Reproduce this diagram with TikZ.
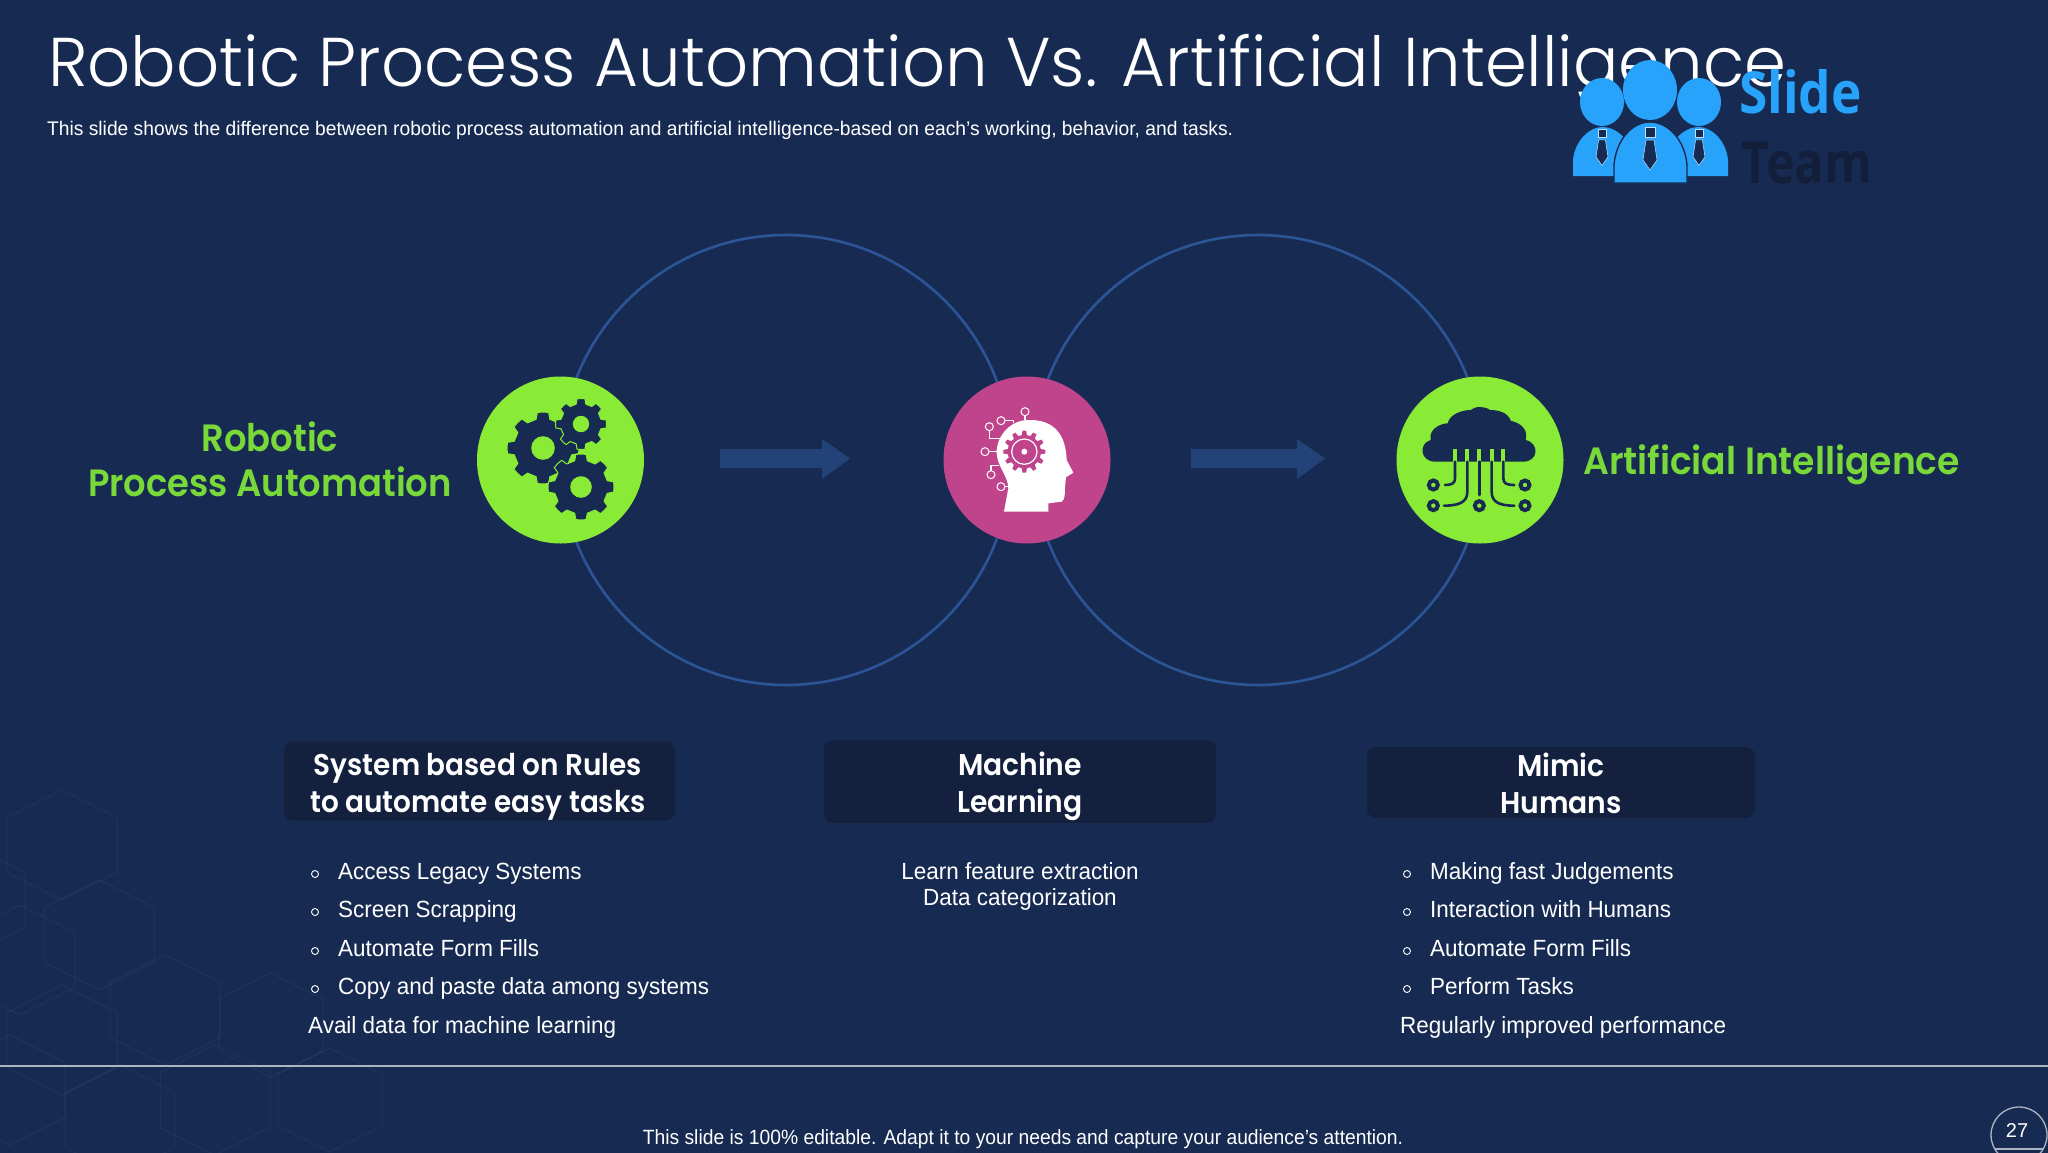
\documentclass[tikz,border=0pt]{standalone}
\usepackage{fontspec}
\setmainfont{Liberation Sans}
\newfontfamily\titlefont{Poppins Light}
\newfontfamily\headfont{Poppins SemiBold}
\newfontfamily\logofont{Open Sans}
\definecolor{bg}{HTML}{172B52}
\definecolor{boxdark}{HTML}{13213F}
\definecolor{lime}{HTML}{8AEB36}
\definecolor{limetext}{HTML}{7AD93A}
\definecolor{pinkc}{HTML}{C0448C}
\definecolor{ringblue}{HTML}{2B5597}
\definecolor{arrowblue}{HTML}{234378}
\definecolor{logoblue}{HTML}{27A3FB}
\definecolor{icondark}{HTML}{172B52}
\definecolor{teamdark}{HTML}{131F3A}
\newcommand{\gearshape}[7]{% x y R r n fill holecolor
  \begin{scope}[shift={(#1,#2)}]
    \filldraw[draw=lime,line width=1pt,fill=#6,line join=round]
      (0:#3) \foreach \i in {1,...,#5}{
        -- ({(\i-1)*360/#5+0.2*360/#5}:#3)
        -- ({(\i-1)*360/#5+0.3*360/#5}:#4)
        -- ({(\i-1)*360/#5+0.7*360/#5}:#4)
        -- ({(\i-1)*360/#5+0.8*360/#5}:#3)
        -- ({\i*360/#5}:#3)
      } -- cycle;
    \fill[#7] (0,0) circle ({#4*0.4});
  \end{scope}}
\tikzset{
  x=1pt,y=-1pt,
  bigring/.style={draw=ringblue,line width=2.6pt},
  disc/.style={circle,minimum size=167pt,inner sep=0pt,draw=none},
  flow/.style={fill=arrowblue},
  headbox/.style={rounded corners=9pt,fill=boxdark,draw=none,inner sep=0pt},
  headtext/.style={text=white,align=center,font=\headfont\fontsize{30}{37}\selectfont},
  label/.style={text=limetext,align=center,font=\headfont\fontsize{38}{45}\selectfont},
  body/.style={text=white,anchor=base west,inner sep=0pt,xscale=.96,font=\fontsize{23.4}{28}\selectfont},
  bodyc/.style={text=white,anchor=base,inner sep=0pt,xscale=.96,font=\fontsize{23.4}{28}\selectfont},
  dot/.style={circle,draw=white,line width=1pt,minimum size=8pt,inner sep=0pt},
  bulletmark/.style={circle,draw=white,line width=.9pt,minimum size=7pt,inner sep=0pt},
  hexline/.style={draw=white,opacity=0.04,line width=1pt},
  fig/.style={fill=logoblue},
  tie/.style={fill=icondark,draw=white!70!logoblue,line width=0.5pt},
  wire/.style={draw=white,line width=1.2pt},
  cwire/.style={draw=icondark,line width=2.6pt,line cap=round},
  pad/.style={draw=icondark,fill=lime,line width=4pt}
}
\begin{document}
\begin{tikzpicture}
\useasboundingbox (0,0) rectangle (2048,1152);
\fill[bg] (-5,-5) rectangle (2053,1157);
% background hexagons
\begin{scope}
\clip (0,0) rectangle (2048,1152);
\foreach \cx/\cy/\r in {62/845/55,-30/900/55,99/935/55,20/960/55,165/1010/55,62/1040/55,271/1025/52,215/1100/55,120/1120/55,330/1100/52,10/1090/55}{
  \draw[hexline] (\cx,\cy-\r) -- (\cx+\r,\cy-\r/2) -- (\cx+\r,\cy+\r/2) -- (\cx,\cy+\r) -- (\cx-\r,\cy+\r/2) -- (\cx-\r,\cy-\r/2) -- cycle;
}
\end{scope}
% rings
\draw[bigring] (786,460) circle (225);
\draw[bigring] (1258,460) circle (225);
% title
\node[anchor=base west,inner sep=0pt,text=white,xscale=.976,font=\titlefont\fontsize{69}{80}\selectfont] (title) at (48,86) {Robotic Process Automation Vs. Artificial Intelligence};
\node[body,xscale=1.017,font=\fontsize{19.7}{24}\selectfont] (subtitle) at (47,135) {This slide shows the difference between robotic process automation and artificial intelligence-based on each's working, behavior, and tasks.};
% logo
\fill[fig] (1602,102) ellipse (22 and 24);
\fill[fig] (1699,102) ellipse (22 and 24);
\fill[fig] (1573,176) -- (1573,160) .. controls (1575,140) and (1590,127) .. (1602,127) .. controls (1614,127) and (1625,135) .. (1632,150) -- (1632,176) -- cycle;
\fill[fig] (1728,176) -- (1728,160) .. controls (1726,140) and (1711,127) .. (1699,127) .. controls (1687,127) and (1676,135) .. (1669,150) -- (1669,176) -- cycle;
\fill[fig] (1650,90) ellipse (27 and 30);
\filldraw[fig,draw=icondark,line width=1.4pt] (1614,183) -- (1614,165) .. controls (1616,140) and (1632,122) .. (1650,122) .. controls (1668,122) and (1685,140) .. (1687,165) -- (1687,183) -- cycle;
\foreach \tx/\ty/\ts in {1602/128/0.85,1650/126/1,1699/128/0.85}{
  \begin{scope}[shift={(\tx,\ty)},scale=\ts]
    \fill[tie] (-5,1) rectangle (5,11);
    \fill[tie] (-4,14) -- (4,14) -- (7,34) -- (0,44) -- (-7,34) -- cycle;
  \end{scope}
}
\node[anchor=base west,inner sep=0pt,text=logoblue,font=\logofont\bfseries\fontsize{58}{60}\selectfont,xscale=.885] (slide) at (1739,113) {Slide};
\node[anchor=base west,inner sep=0pt,text=teamdark,font=\logofont\bfseries\fontsize{58}{60}\selectfont,xscale=.84] (team) at (1741,183) {Team};
% arrows
\fill[flow] (720,449) -- (822,449) -- (822,439) -- (850,458.5) -- (822,479) -- (822,468) -- (720,468) -- cycle;
\fill[flow] (1191,449) -- (1297,449) -- (1297,439) -- (1325,458.5) -- (1297,479) -- (1297,468) -- (1191,468) -- cycle;
% discs
\node[disc,fill=lime] (rpa) at (560.5,460) {};
\node[disc,fill=pinkc] (ml) at (1027,460) {};
\node[disc,fill=lime] (ai) at (1480,460) {};
% gears
\gearshape{543}{448}{36}{29.5}{8}{icondark}{lime}
\gearshape{581}{424}{25.5}{20.5}{8}{icondark}{lime}
\gearshape{581}{487}{33}{27}{8}{icondark}{lime}
% head icon
\begin{scope}[shift={(930,360)},x=0.3333pt,y=-0.3333pt]
  \fill[white] (222,455) -- (355,455) -- (355,430) -- (395,425) .. controls (405,420) and (405,400) .. (405,380) -- (408,352) -- (430,338) -- (410,300) .. controls (408,240) and (385,180) .. (300,180) .. controls (240,178) and (198,230) .. (200,280) .. controls (202,320) and (235,350) .. (235,385) -- cycle;
  \begin{scope}[shift={(283,275)}]
    \fill[pinkc] (0:63) \foreach \i in {1,...,12}{
      -- ({(\i-1)*30+5}:63) -- ({(\i-1)*30+9}:50) -- ({(\i-1)*30+21}:50) -- ({(\i-1)*30+25}:63) -- ({\i*30}:63)
    } -- cycle;
    \draw[white,line width=1.2pt] (0,0) circle (38);
    \fill[white] (0,0) circle (9);
  \end{scope}
  \draw[wire] (285,180) -- (285,155);
  \draw[wire] (250,190) -- (250,182) -- (213,182);
  \draw[wire] (210,236) -- (178,236) -- (178,200);
  \draw[wire] (200,275) -- (165,275);
  \draw[wire] (208,316) -- (183,316) -- (183,344);
  \draw[wire] (235,380) -- (213,380);
  \foreach \dx/\dy/\dn in {285/155/a,213/182/b,178/200/c,165/275/d,183/344/e,213/380/f}{
    \node[dot,fill=pinkc] (hd\dn) at (\dx,\dy) {};
  }
\end{scope}
% cloud icon
\begin{scope}[shift={(1380,360)},x=0.3333pt,y=-0.3333pt]
  \fill[icondark] (165,305) .. controls (120,305) and (115,250) .. (152,240) .. controls (145,205) and (185,190) .. (203,190) .. controls (210,160) and (250,150) .. (272,150) .. controls (285,138) and (315,138) .. (330,150) .. controls (360,150) and (385,160) .. (392,182) .. controls (425,190) and (445,210) .. (437,240) .. controls (480,250) and (475,305) .. (430,305) -- cycle;
  \fill[lime] (219,268) rectangle (231,305);
  \fill[lime] (256,268) rectangle (268,305);
  \fill[lime] (292,268) rectangle (304,305);
  \fill[lime] (329,268) rectangle (341,305);
  \fill[lime] (364,268) rectangle (376,305);
  \draw[cwire] (225,305) -- (225,355) .. controls (225,370) and (215,375) .. (195,375);
  \draw[cwire] (370,305) -- (370,355) .. controls (370,370) and (380,375) .. (403,375);
  \draw[cwire] (262,305) -- (262,395) .. controls (262,425) and (240,437) .. (192,437);
  \draw[cwire] (335,305) -- (335,395) .. controls (335,425) and (355,437) .. (403,437);
  \draw[cwire] (298,305) -- (298,405);
  \foreach \px/\py/\pn in {160/375/a,160/437/b,298/437/c,435/375/d,435/437/e}{
    \node[circle,pad,minimum size=9pt,inner sep=0pt] (cp\pn) at (\px,\py) {};
  }
\end{scope}
% labels
\node[label,xscale=.93] (lrpa) at (270,459) {Robotic\\Process Automation};
\node[label,anchor=west,inner sep=0pt,xscale=.95] (lai) at (1583,465) {Artificial Intelligence};
% header boxes
\node[headbox,minimum width=391pt,minimum height=79pt] (b1) at (479.5,781) {};
\node[headbox,minimum width=392pt,minimum height=83pt] (b2) at (1020,781.5) {};
\node[headbox,minimum width=388pt,minimum height=71pt] (b3) at (1561,782.5) {};
\node[headtext,xscale=.93] (t1) at (478,787) {System based on Rules\\to automate easy tasks};
\node[headtext,xscale=.94] (t2) at (1020,786) {Machine\\Learning};
\node[headtext,xscale=.94] (t3) at (1561,783) {Mimic\\Humans};
% lists
\foreach \ty/\tx/\tn in {879/Access Legacy Systems/a,917/Screen Scrapping/b,956/Automate Form Fills/c,994/Copy and paste data among systems/d}{
  \node[body] (l\tn) at (338,\ty) {\tx};
  \node[bulletmark] (lb\tn) at (315,\ty-5) {};
}
\node[body] (le) at (308,1033) {Avail data for machine learning};
\node[bodyc] (m1) at (1020,879) {Learn feature extraction};
\node[bodyc] (m2) at (1020,905) {Data categorization};
\foreach \ty/\tx/\tn in {879/Making fast Judgements/a,917/Interaction with Humans/b,956/Automate Form Fills/c,994/Perform Tasks/d}{
  \node[body] (r\tn) at (1430,\ty) {\tx};
  \node[bulletmark] (rb\tn) at (1407,\ty-5) {};
}
\node[body] (re) at (1400,1033) {Regularly improved performance};
% footer
\draw[draw=white!65!bg,line width=1.2pt] (0,1066) -- (2048,1066);
\node[bodyc,xscale=.975,font=\fontsize{20.6}{24}\selectfont] (foot) at (1023,1144) {This slide is 100\% editable. Adapt it to your needs and capture your audience's attention.};
\draw[draw=white!65!bg,line width=1.3pt] (2019,1135) circle (28);
\draw[draw=white!65!bg,line width=1.3pt] (1995,1149) -- (2043,1149);
\node[bodyc,xscale=1.04,font=\fontsize{20}{24}\selectfont] (page) at (2017,1137) {27};
\end{tikzpicture}
\end{document}
